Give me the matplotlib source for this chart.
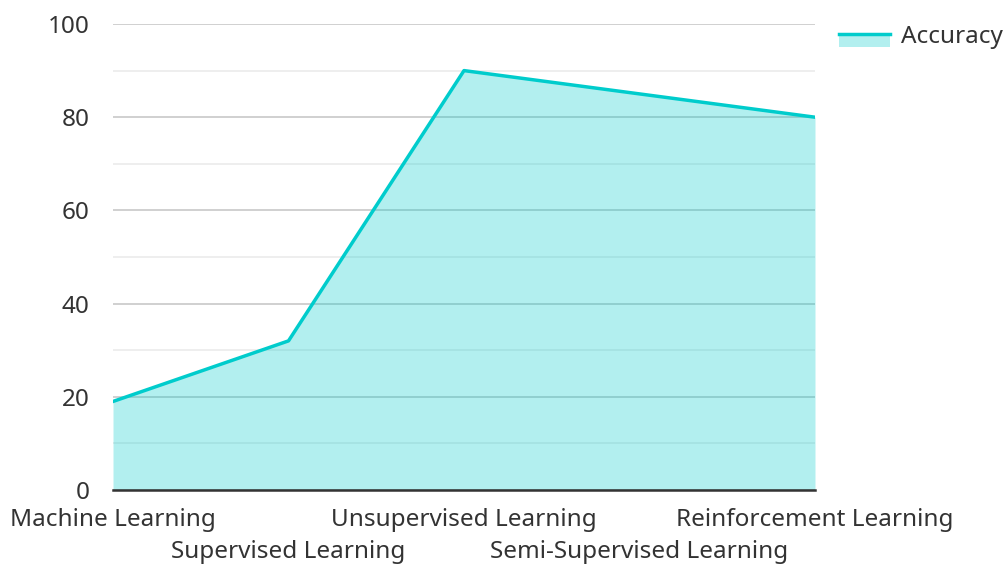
import numpy as np
import matplotlib.pyplot as plt
from matplotlib.lines import Line2D
from matplotlib.patches import Rectangle
from matplotlib.legend_handler import HandlerBase

plt.rcParams['font.family'] = ['Noto Sans', 'DejaVu Sans']

categories = ['Machine Learning', 'Supervised Learning', 'Unsupervised Learning',
              'Semi-Supervised Learning', 'Reinforcement Learning']
accuracy = [19, 32, 90, 85, 80]

line_color = '#00CCCC'
text_color = '#333333'
fs = 17.5


class AreaHandler(HandlerBase):
    # line on top, filled block hanging below it
    def create_artists(self, legend, orig_handle, xdescent, ydescent, width, height, fontsize, trans):
        mid = height / 2 - ydescent
        rect = Rectangle((-xdescent, mid - height * 0.75), width, height * 0.75,
                         facecolor=line_color, alpha=0.3, linewidth=0, transform=trans)
        line = Line2D([-xdescent, -xdescent + width], [mid, mid], color=line_color,
                      linewidth=2.5, transform=trans)
        return [rect, line]


fig = plt.figure(figsize=(10.05, 5.64), dpi=100)
ax = fig.add_axes([113 / 1005, 1 - 490 / 564, (815 - 113) / 1005, (490 - 24) / 564])

x = np.arange(len(categories))
ax.fill_between(x, accuracy, 0, color=line_color, alpha=0.3, linewidth=0, zorder=2)
area_line, = ax.plot(x, accuracy, color=line_color, linewidth=2.5, zorder=3)

ax.set_xlim(0, len(categories) - 1)
ax.set_ylim(0, 100)
ax.set_yticks(np.arange(0, 101, 20))
ax.set_yticks(np.arange(10, 100, 20), minor=True)
ax.yaxis.grid(True, which='major', color='#c8c8c8', linewidth=1.2, zorder=1)
ax.yaxis.grid(True, which='minor', color='#ebebeb', linewidth=1.2, zorder=1)
ax.set_axisbelow(True)

# staggered category labels: even ones on the first row, odd ones below
ax.set_xticks(x[::2], [categories[i] for i in x[::2]])
ax.set_xticks(x[1::2], [categories[i] for i in x[1::2]], minor=True)
ax.tick_params(axis='x', which='major', length=0, pad=13, labelsize=fs, labelcolor=text_color)
ax.tick_params(axis='x', which='minor', length=0, pad=36, labelsize=fs, labelcolor=text_color)
ax.tick_params(axis='y', which='both', length=0, pad=17, labelsize=fs, labelcolor=text_color)

for side in ['left', 'right', 'top']:
    ax.spines[side].set_visible(False)
ax.spines['bottom'].set_color(text_color)
ax.spines['bottom'].set_linewidth(1.8)
ax.spines['bottom'].set_zorder(4)

fig.legend([area_line], ['Accuracy'], handler_map={area_line: AreaHandler()},
           loc='upper left', bbox_to_anchor=(839 / 1005, 1 - 25 / 564),
           frameon=False, fontsize=fs, labelcolor=text_color, handlelength=2.1,
           handletextpad=0.45, borderaxespad=0, borderpad=0)

fig.savefig('out.png', dpi=100)
